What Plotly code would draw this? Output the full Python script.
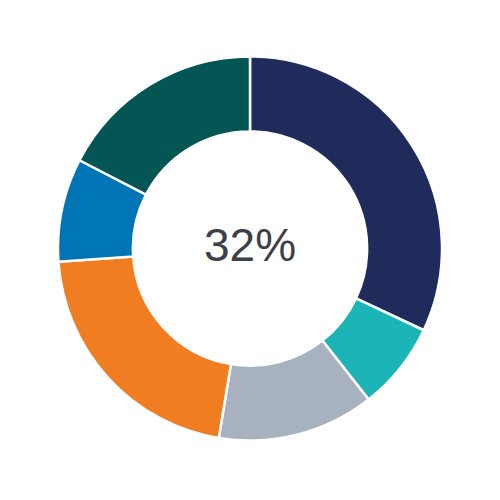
import plotly.graph_objects as go

labels = ["A", "B", "C", "D", "E", "F"]
values = [32, 7.4, 13.2, 21.3, 8.7, 17.4]
colors = ["#1e2b5b", "#1bb5b8", "#a8b1bf", "#f07d21", "#0075b5", "#035654"]
center_label = "32%"

fig = go.Figure(
    go.Pie(
        labels=labels,
        values=values,
        hole=0.61,
        sort=False,
        direction="clockwise",
        rotation=0,
        marker={"colors": colors, "line": {"color": "white", "width": 2.5}},
        textinfo="none",
        hoverinfo="none",
        domain={"x": [0.100, 0.868], "y": [0.135, 0.903]},
    )
)

# page body adds an 8px offset, so the centre sits a little up/left of 0.5
fig.add_annotation(
    text=center_label,
    x=0.484,
    y=0.527,
    xref="paper",
    yref="paper",
    showarrow=False,
    font={"family": "Liberation Sans, Arial", "size": 46, "color": "#3d4047"},
)

fig.update_layout(
    width=500,
    height=500,
    margin={"r": 0, "t": 0, "l": 0, "b": 0},
    showlegend=False,
    paper_bgcolor="white",
    plot_bgcolor="white",
)

fig.write_html("out.html")
